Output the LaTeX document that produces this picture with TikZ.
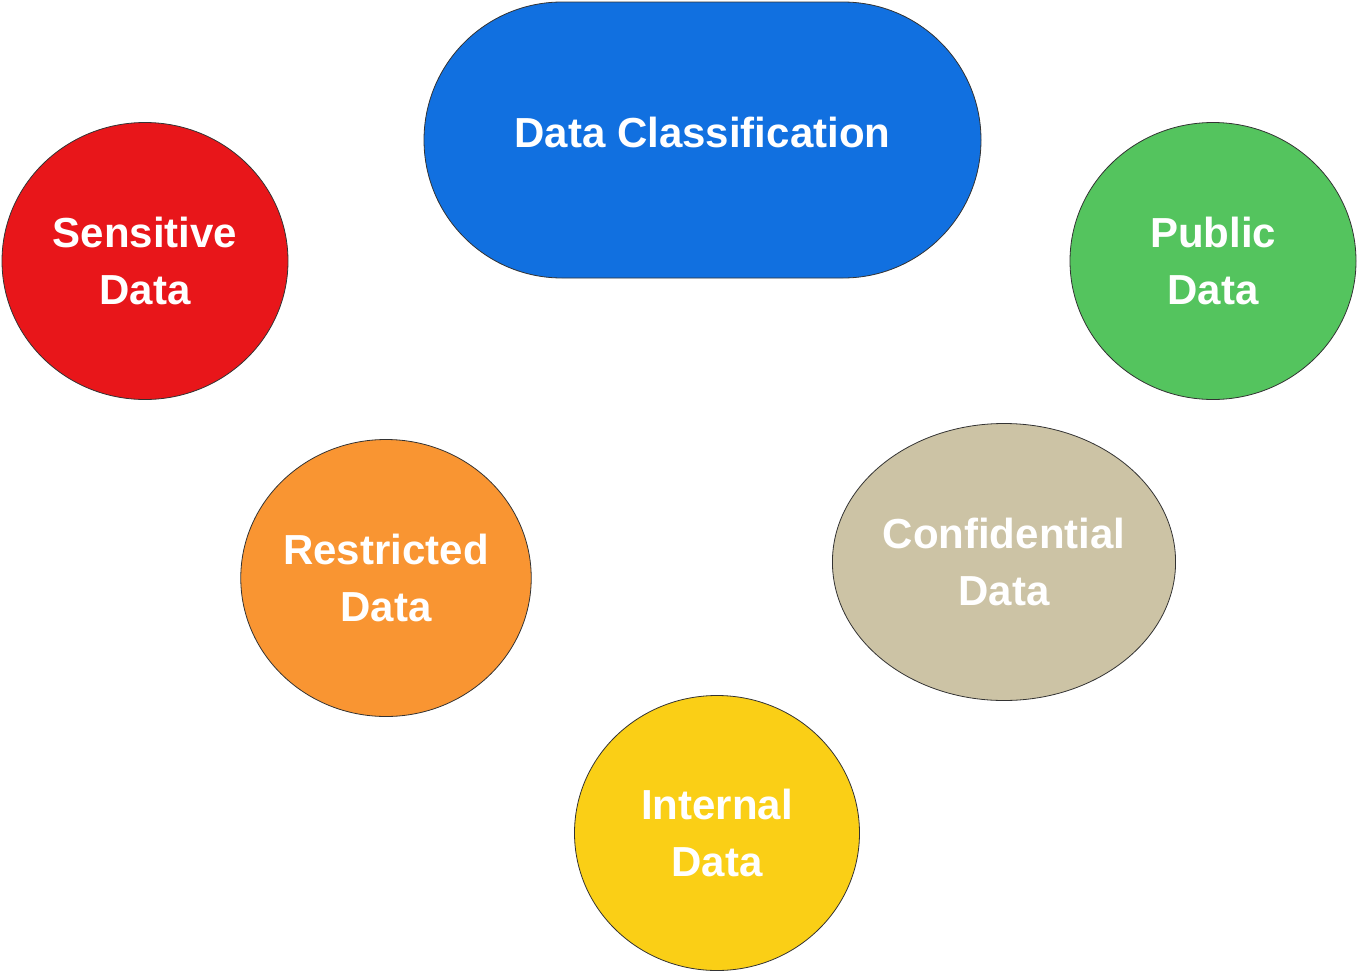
\documentclass[tikz,border=0pt]{standalone}
\usepackage{fontspec}
\setmainfont{Liberation Sans}
\usetikzlibrary{shapes.geometric,shapes.misc}
\definecolor{cred}{HTML}{E8161A}
\definecolor{cgreen}{HTML}{54C45E}
\definecolor{corange}{HTML}{F99532}
\definecolor{ctan}{HTML}{CCC3A5}
\definecolor{cyellow}{HTML}{FACF16}
\definecolor{cblue}{HTML}{1170E0}
\begin{document}
\begin{tikzpicture}[x=1pt,y=-1pt,
  blob/.style={ellipse,draw=black!80,line width=0.8pt,minimum width=286pt,minimum height=277pt,inner sep=0pt,
    text=white,align=center,font=\fontsize{42}{57}\selectfont\bfseries}]
\useasboundingbox (0,0) rectangle (1358,972);
\node[rounded rectangle,draw=black!80,line width=0.8pt,fill=cblue,minimum width=557pt,minimum height=276pt,inner sep=0pt] (dc) at (702.5,140) {};
\node[text=white,font=\fontsize{42}{57}\selectfont\bfseries] (dct) at (702.5,132) {Data Classification};
\node[blob,fill=cred] (s) at (145,261) {Sensitive\\Data};
\node[blob,fill=cgreen] (p) at (1213,261) {Public\\Data};
\node[blob,fill=corange] (r) at (386,578) {Restricted\\Data};
\node[blob,fill=ctan] (c) at (1004,562) {Confidential\\Data};
\node[blob,fill=cyellow,minimum width=285pt,minimum height=275pt] (i) at (717,833) {Internal\\Data};
\end{tikzpicture}
\end{document}
